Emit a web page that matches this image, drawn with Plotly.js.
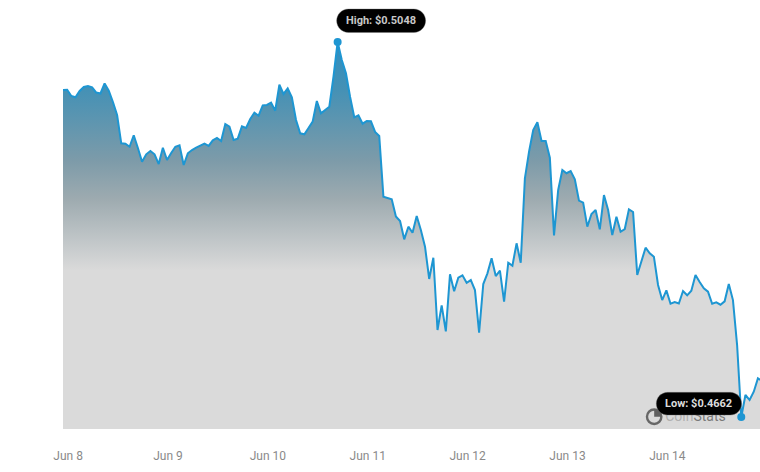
<!DOCTYPE html>
<html>
<head>
<meta charset="utf-8">
<script src="https://cdn.plot.ly/plotly-3.0.1.min.js"></script>
<style>html,body{margin:0;padding:0;background:#fff}#chart{width:760px;height:472px}</style>
</head>
<body>
<div id="chart"></div>
<script>
// Hourly prices, first point Jun 7 23:00
const prices = [
0.49986,0.49989,0.49924,0.49911,0.49976,0.50017,0.50027,0.50014,0.4996,0.4995,
0.50053,0.49979,0.49862,0.49729,0.49437,0.49433,0.49402,0.4952,0.49389,0.49248,
0.49324,0.49358,0.49324,0.49224,0.49392,0.49265,0.49337,0.49402,0.49417,0.49214,
0.49334,0.49368,0.49392,0.4941,0.49433,0.4941,0.49468,0.49492,0.49461,0.49636,
0.49608,0.49471,0.49485,0.49612,0.49595,0.49687,0.49752,0.49721,0.49828,0.49832,
0.49855,0.49773,0.5004,0.49945,0.50003,0.49911,0.49677,0.4954,0.4953,0.49595,
0.4966,0.49873,0.49746,0.4978,0.49814,0.50123,0.5048,0.50295,0.50158,0.49914,
0.49705,0.49726,0.49639,0.49667,0.49664,0.49554,0.49512,0.48888,0.48874,0.48861,
0.48684,0.48638,0.48449,0.48579,0.48517,0.48689,0.48545,0.48373,0.48041,0.4826,
0.47516,0.4777,0.47502,0.48089,0.47914,0.48054,0.48079,0.48002,0.4803,0.47927,
0.47488,0.47989,0.48099,0.48254,0.48071,0.48126,0.47807,0.48208,0.48177,0.48408,
0.48208,0.49077,0.49351,0.49574,0.49653,0.49461,0.49461,0.49289,0.4849,0.48957,
0.49162,0.49129,0.49152,0.49067,0.48847,0.48826,0.48579,0.4871,0.48751,0.48552,
0.48905,0.48751,0.48493,0.48682,0.48527,0.48555,0.48758,0.4873,0.48082,0.48226,
0.48363,0.48305,0.4827,0.47979,0.47824,0.47924,0.47786,0.47804,0.47788,0.47917,
0.47873,0.4792,0.48082,0.4801,0.47945,0.4791,0.47786,0.47801,0.47776,0.47811,
0.47989,0.47824,0.47361,0.4662,0.46847,0.46795,0.46881,0.47018,0.46991
];
const tickDays = ['2023-06-08','2023-06-09','2023-06-10','2023-06-11','2023-06-12','2023-06-13','2023-06-14'];
const tickLabels = ['Jun 8','Jun 9','Jun 10','Jun 11','Jun 12','Jun 13','Jun 14'];
const times = prices.map((_, k) => new Date(Date.UTC(2023, 5, 7, 23 + k)).toISOString());

const hi = prices.indexOf(Math.max(...prices));
const lo = prices.indexOf(Math.min(...prices));

function pill(x0, x1, y0, y1) {
  const r = (y1 - y0) / 2, c = r * 0.45;
  return `M ${x0 + r} ${y0} L ${x1 - r} ${y0} C ${x1 - c} ${y0} ${x1} ${y0 + c} ${x1} ${y0 + r} C ${x1} ${y1 - c} ${x1 - c} ${y1} ${x1 - r} ${y1} L ${x0 + r} ${y1} C ${x0 + c} ${y1} ${x0} ${y1 - c} ${x0} ${y0 + r} C ${x0} ${y0 + c} ${x0 + c} ${y0} ${x0 + r} ${y0} Z`;
}
function ring(cx, cy, r) {
  const k = r * 0.5523;
  return `M ${cx - r} ${cy} C ${cx - r} ${cy + k} ${cx - k} ${cy + r} ${cx} ${cy + r} C ${cx + k} ${cy + r} ${cx + r} ${cy + k} ${cx + r} ${cy} C ${cx + r} ${cy - k} ${cx + k} ${cy - r} ${cx} ${cy - r} C ${cx - k} ${cy - r} ${cx - r} ${cy - k} ${cx - r} ${cy} Z`;
}
function anchored(xa, ya, path, style) {
  return Object.assign({type:'path', xref:'x', yref:'y', xsizemode:'pixel', ysizemode:'pixel',
    xanchor:xa, yanchor:ya, path:path, layer:'above'}, style);
}
const pillStyle = {fillcolor:'#000', line:{color:'rgba(120,120,120,0.6)', width:0.6}};

const traces = [
  {x:times, y:prices, mode:'lines', line:{color:'#1e96d2', width:2, shape:'linear'},
   fill:'tozeroy',
   fillgradient:{type:'vertical', start:0.4813, stop:0.5048,
     colorscale:[[0,'#dadada'],[0.31,'#9eabb0'],[0.48,'#7d9ba9'],[0.79,'#4591b5'],[1,'#2d8ec0']]},
   hoverinfo:'skip', showlegend:false},
  {x:[times[152]], y:[prices[lo]], mode:'text', text:['<span style="color:#b0b0b0">Coin</span>Stats'],
   textposition:'middle center', textfont:{family:'Roboto', size:14, color:'#7a7a7a'},
   cliponaxis:false, hoverinfo:'skip', showlegend:false},
  {x:[times[hi], times[lo]], y:[prices[hi], prices[lo]], mode:'markers',
   marker:{color:'#1e96d2', size:8}, cliponaxis:false, hoverinfo:'skip', showlegend:false}
];

const shapes = [
  anchored(times[lo], prices[lo], ring(-87.1, 0.3, 7.2), {fillcolor:'rgba(0,0,0,0)', line:{color:'#666', width:2.4}}),
  anchored(times[lo], prices[lo], 'M -87.1 0.3 L -87.1 7.5 C -83 7.5 -79.9 4.3 -79.9 0.3 Z', {fillcolor:'#5f5f5f', line:{color:'#5f5f5f', width:0}}),
  anchored(times[hi], prices[hi], pill(-1, 88, 9.5, 33), pillStyle),
  anchored(times[lo], prices[lo], pill(-85, 0.3, 2, 24.7), pillStyle)
];

const annotations = [
  {x:times[hi], y:prices[hi], xref:'x', yref:'y', showarrow:false, xshift:43.5, yshift:21.5,
   text:'High: $' + prices[hi].toFixed(4), font:{family:'Roboto', size:11, color:'#c8c8c8', weight:'bold'}},
  {x:times[lo], y:prices[lo], xref:'x', yref:'y', showarrow:false, xshift:-42.5, yshift:13.5,
   text:'Low: $' + prices[lo].toFixed(4), font:{family:'Roboto', size:11, color:'#dcdcdc', weight:'bold'}}
];

const layout = {
  width:760, height:472,
  margin:{l:63.3, r:0, t:0, b:43, pad:0},
  paper_bgcolor:'#fff', plot_bgcolor:'#fff',
  showlegend:false,
  xaxis:{type:'date', range:[times[0], new Date(Date.UTC(2023, 5, 7, 23 + 167, 30)).toISOString()],
    tickmode:'array', tickvals:tickDays, ticktext:tickLabels, showgrid:false, zeroline:false, showline:false,
    ticks:'outside', ticklen:16, tickwidth:0, tickcolor:'rgba(0,0,0,0)', ticklabelshift:1,
    tickfont:{family:'Roboto', size:12, color:'#8a8a8a'}},
  yaxis:{range:[0.46497, 0.50912], visible:false, fixedrange:true},
  shapes:shapes, annotations:annotations
};
Plotly.newPlot('chart', traces, layout, {displayModeBar:false, staticPlot:true});
</script>
</body>
</html>
